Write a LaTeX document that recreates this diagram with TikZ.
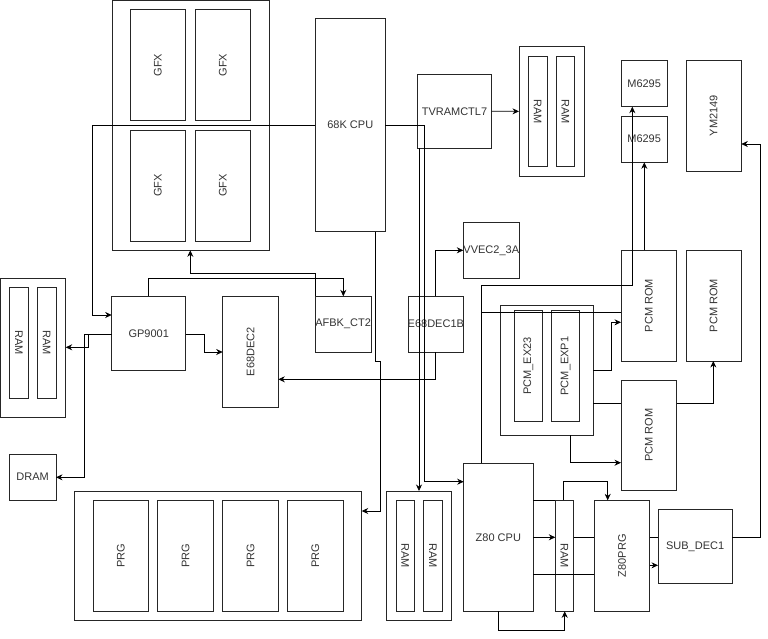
\documentclass[tikz,border=0pt]{standalone}
\usepackage{fontspec}
\setmainfont{Liberation Sans}
\usetikzlibrary{arrows.meta}
\newcommand\mybox[6]{\node[box, minimum width={#4-#2}, minimum height={#5-#3}] (#1) at ({(#2+#4)/2},{(#3+#5)/2}) {#6};}
\newcommand\up[1]{\rotatebox{90}{#1}}
\newcommand\dn[1]{\rotatebox{-90}{#1}}
\newcommand\hz[1]{\makebox[0pt]{#1}}
\begin{document}
\begin{tikzpicture}[x=1pt,y=-1pt,
  box/.style={draw=black!85, line width=0.8pt, inner sep=0pt, outer sep=0pt, font=\fontsize{11}{13}\selectfont, text=black!80},
  wire/.style={draw=black, line width=0.8pt},
  arr/.style={wire, -{Stealth[length=6.5pt,width=6pt]}}]
\useasboundingbox (0,0) rectangle (768,638);
% GFX block
\mybox{gfx}{112}{0.5}{269.3}{250.3}{}
\mybox{gfxa}{130}{9.3}{185.7}{120.7}{\up{GFX}}
\mybox{gfxb}{195}{9.3}{250.7}{120.7}{\up{GFX}}
\mybox{gfxc}{130}{130}{185.7}{241}{\up{GFX}}
\mybox{gfxd}{195}{130}{250.7}{241}{\up{GFX}}
% CPU and video
\mybox{cpu}{315.3}{18.7}{385.3}{231.7}{\hz{68K CPU}}
\mybox{tvram}{417.3}{74.3}{491.7}{148.3}{\hz{TVRAMCTL7}}
\mybox{ramT}{519}{46.7}{584}{176}{}
\mybox{ramTa}{528.3}{56}{547}{166.7}{\dn{RAM}}
\mybox{ramTb}{556}{56}{574.7}{166.7}{\dn{RAM}}
\mybox{mA}{621}{60.3}{667.3}{106.7}{\hz{M6295}}
\mybox{mB}{621}{116}{667.3}{162.3}{\hz{M6295}}
\mybox{ym}{686}{60.3}{741.3}{171.3}{\up{YM2149}}
\mybox{vvec}{463.3}{222.3}{519.3}{278.3}{\hz{VVEC2\_3A}}
% middle row
\mybox{ramL}{0.5}{278.3}{65.7}{417}{}
\mybox{ramLa}{9.3}{287.3}{28.3}{398.3}{\dn{RAM}}
\mybox{ramLb}{37.3}{287.3}{56}{398.3}{\dn{RAM}}
\mybox{gp}{111.7}{296.3}{185.7}{370.3}{\hz{GP9001}}
\mybox{dec2}{222.7}{296.3}{278.3}{407.3}{\up{E68DEC2}}
\mybox{afbk}{315.3}{296.3}{371}{352}{\hz{AFBK\_CT2}}
\mybox{dec1b}{408}{296.3}{463.7}{352}{\hz{E68DEC1B}}
\mybox{dram}{9.3}{454}{56}{500.3}{\hz{DRAM}}
% PCM
\mybox{rom1}{621}{250.3}{676.7}{361}{\up{PCM ROM}}
\mybox{rom2}{686}{250.3}{741.3}{361}{\up{PCM ROM}}
\mybox{rom3}{621}{380}{676.7}{490.7}{\up{PCM ROM}}
\mybox{pcmc}{500.3}{305.7}{593.3}{435.3}{}
\mybox{pcma}{514.3}{310.3}{542.3}{421.7}{\up{PCM\_EX23}}
\mybox{pcmb}{551.7}{310.3}{579.3}{421.7}{\up{PCM\_EXP1}}
% bottom row
\mybox{prg}{74}{491}{361.7}{620.7}{}
\mybox{prga}{93}{500.3}{148.7}{611.3}{\up{PRG}}
\mybox{prgb}{157.7}{500.3}{213.3}{611.3}{\up{PRG}}
\mybox{prgc}{222.7}{500.3}{278.3}{611.3}{\up{PRG}}
\mybox{prgd}{287.3}{500.3}{343.3}{611.3}{\up{PRG}}
\mybox{ramB}{386.7}{491}{451.7}{620.7}{}
\mybox{ramBa}{396}{500.3}{414.3}{611.3}{\dn{RAM}}
\mybox{ramBb}{423.7}{500.3}{442.3}{611.3}{\dn{RAM}}
\mybox{z80}{463.7}{463.3}{533}{611.3}{\hz{Z80 CPU}}
\mybox{ramS}{555.3}{500.3}{573.7}{611.3}{\dn{RAM}}
\mybox{zprg}{594.3}{500.3}{649.7}{611.3}{\up{Z80PRG}}
\mybox{sub}{658}{509.7}{732.3}{583.7}{\hz{SUB\_DEC1}}
% connectors
\draw[arr] (cpu.west |- 0,125) -| (92.7,315) -- (gp.west |- 0,315);
\draw[arr] (cpu.east |- 0,125) -- (424,125) -- (424,481.7) -- (z80.west |- 0,481.7);
\draw[arr] (tvram.south -| 419,0) -- (ramB.north -| 419,0);
\draw[arr] (tvram.east) -- (ramT.west);
\draw[arr] (dec1b.north -| 435.7,0) |- (vvec.west);
\draw[arr] (dec1b.south -| 435.7,0) |- (dec2.east |- 0,379.3);
\draw[arr] (gp.north -| 148.3,0) |- (343.3,278.3) -- (afbk.north -| 343.3,0);
\draw[arr] (afbk.north west) |- (190.3,273.3) -- (gfx.south -| 190.3,0);
\draw[arr] (gp.west |- 0,334) -| (88.7,347.3) -- (ramL.east |- 0,347.3);
\draw[arr] (gp.west |- 0,334) -| (84,477.3) -- (dram.east |- 0,477.3);
\draw[arr] (gp.east |- 0,334) -| (204.3,352) -- (dec2.west |- 0,352);
\draw[arr] (cpu.south -| 375,0) -- (375,361.7) -- (380.3,361.7) |- (prg.east |- 0,511);
\draw[arr] (z80.north -| 481,0) |- (632.3,285) -- (mA.south -| 632.3,0);
\draw[wire] (z80.north -| 481,0) |- (rom1.west |- 0,312.7);
\draw[arr] (rom1.north -| 644.3,0) -- (mB.south -| 644.3,0);
\draw[arr] (pcmc.east |- 0,370.7) -| (611,322.3) -- (rom1.west |- 0,322.3);
\draw[wire] (pcmc.east |- 0,403.3) -- (rom3.west |- 0,403.3);
\draw[arr] (rom3.east |- 0,403.3) -| (rom2.south -| 713.3,0);
\draw[arr] (pcmc.south -| 570.3,0) |- (rom3.west |- 0,462.7);
\draw[arr] (z80.east |- 0,537.3) -- (ramS.west |- 0,537.3);
\draw[wire] (z80.east |- 0,500.3) -- (ramS.north west);
\draw[arr] (ramS.north -| 563.7,0) |- (607.7,481.7) -- (zprg.north -| 607.7,0);
\draw[wire] (z80.east |- 0,574.3) -- (zprg.west |- 0,574.3);
\draw[wire] (ramS.east |- 0,537.3) -- (zprg.west |- 0,537.3);
\draw[arr] (z80.south -| 498.3,0) |- (564.7,630) -- (ramS.south -| 564.7,0);
\draw[wire] (zprg.east |- 0,537.3) -- (sub.west |- 0,537.3);
\draw[arr] (zprg.east |- 0,565.3) -- (sub.west |- 0,565.3);
\draw[arr] (sub.east |- 0,537.3) -| (760,144) -- (ym.east |- 0,144);
\end{tikzpicture}
\end{document}
